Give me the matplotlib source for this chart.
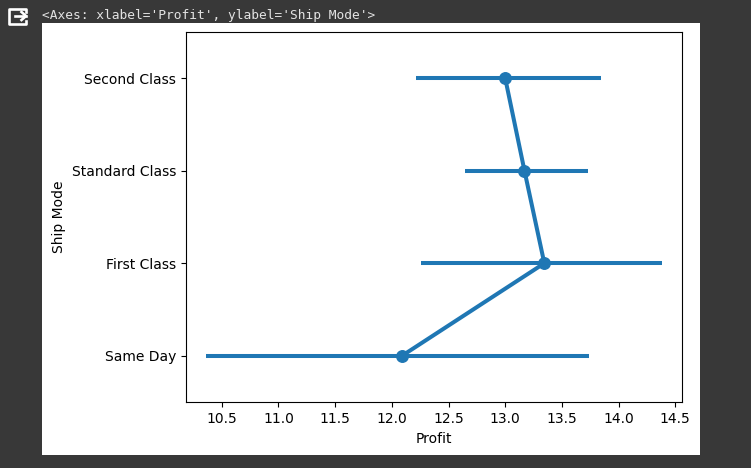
import matplotlib
matplotlib.use("Agg")
import matplotlib.pyplot as plt
from matplotlib.patches import Rectangle

ship_modes = ["Second Class", "Standard Class", "First Class", "Same Day"]
profit_mean = [13.00, 13.17, 13.345, 12.09]
profit_low = [12.215, 12.645, 12.255, 10.36]
profit_high = [13.845, 13.73, 14.38, 13.74]
x_ticks = [10.5, 11.0, 11.5, 12.0, 12.5, 13.0, 13.5, 14.0, 14.5]

W, H = 751, 468
blue = "#1f77b4"

fig = plt.figure(figsize=(W / 100, H / 100), dpi=100, facecolor="#383838")

# white output cell behind the axes
fig.patches.append(Rectangle((42 / W, 1 - 455 / H), 658 / W, 432 / H, transform=fig.transFigure,
                             facecolor="white", edgecolor="none", zorder=-1))

ax = fig.add_axes([186 / W, 1 - 402 / H, 496.5 / W, 370 / H])
rows = list(range(len(ship_modes)))
for i in rows:
    ax.plot([profit_low[i], profit_high[i]], [i, i], color=blue, lw=2.9, solid_capstyle="butt")
ax.plot(profit_mean, rows, color=blue, lw=2.9, marker="o", ms=8.3)

ax.set_xlim(10.184, 14.564)
ax.set_ylim(3.5, -0.5)
ax.set_xticks(x_ticks)
ax.set_xticklabels([str(t) for t in x_ticks])
ax.set_yticks(rows)
ax.set_yticklabels(ship_modes)
ax.tick_params(labelsize=10, length=3.5, width=0.8)
ax.set_xlabel("Profit", fontsize=10, labelpad=4.5)
ax.set_ylabel("Ship Mode", fontsize=10, labelpad=4.5)

# cell header
fig.text(42 / W, 1 - 15 / H, "<Axes: xlabel='Profit', ylabel='Ship Mode'>", color="#e3e3e3",
         family="DejaVu Sans Mono", fontsize=9.25, va="center")

# output icon
fig.add_artist(plt.Line2D([26 / W, 26 / W, 9 / W, 9 / W, 26 / W, 26 / W],
                          [1 - 11.5 / H, 1 - 8.5 / H, 1 - 8.5 / H, 1 - 23.5 / H, 1 - 23.5 / H, 1 - 20.5 / H],
                          color="white", lw=1.9))
fig.add_artist(plt.Line2D([15 / W, 26 / W], [1 - 16 / H, 1 - 16 / H], color="white", lw=1.9))
fig.add_artist(plt.Line2D([21.5 / W, 26 / W, 21.5 / W],
                          [1 - 12 / H, 1 - 16 / H, 1 - 20 / H], color="white", lw=1.9))

fig.savefig("out.png", dpi=100, facecolor=fig.get_facecolor())
